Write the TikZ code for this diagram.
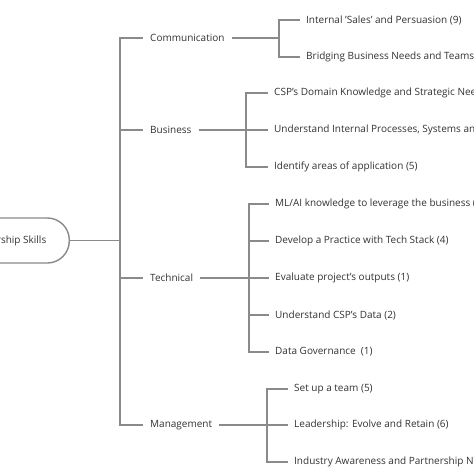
\documentclass[tikz,border=0pt]{standalone}
\usepackage{fontspec}
\setmainfont{Open Sans}
\definecolor{linegray}{HTML}{8A8A8A}
\definecolor{textgray}{HTML}{333333}
\newcommand{\sq}{\char"0027\relax}
\begin{document}
\begin{tikzpicture}[x=1pt,y=-1pt,
  conn/.style={draw=linegray,line width=1.4pt},
  txt/.style={anchor=west,inner ysep=0pt,text=textgray,font=\fontsize{10pt}{12pt}\selectfont},
  branch/.style={txt,inner xsep=7pt},
  leaf/.style={txt,inner xsep=6pt},
  rootbox/.style={draw=linegray,line width=1.4pt,rounded corners=22pt,minimum height=45pt,inner xsep=23pt,anchor=east,text=textgray,font=\fontsize{10pt}{12pt}\selectfont}]
\fill[white] (0,0) rectangle (474,474);
\useasboundingbox (0,0) rectangle (474,474);
\clip (0,0) rectangle (474,474);
% root
\node[rootbox] (root) at (70,240.5) {Leadership Skills};
\coordinate (T) at (120,240.5);
\draw[conn] (root.east) -- (T);
% branches
\node[branch] (comm) at (143,38) {Communication};
\node[branch] (bus) at (143,130) {Business};
\node[branch] (tech) at (143,278) {Technical};
\node[branch] (man) at (143,425) {Management};
\foreach \b in {comm,bus,tech,man} \draw[conn] (T) |- (\b.west);
% sub-trunks
\coordinate (CT) at (279,38);
\coordinate (BT) at (246,130);
\coordinate (TT) at (249,278);
\coordinate (MT) at (267,425);
\draw[conn] (comm.east) -- (CT);
\draw[conn] (bus.east) -- (BT);
\draw[conn] (tech.east) -- (TT);
\draw[conn] (man.east) -- (MT);
% communication leaves
\node[leaf] (c1) at (300,20) {Internal \sq Sales\sq{} and Persuasion (9)};
\node[leaf] (c2) at (300,57) {Bridging Business Needs and Teams};
% business leaves
\node[leaf] (b1) at (268,93) {CSP\sq s Domain Knowledge and Strategic Needs};
\node[leaf] (b2) at (268,130) {Understand Internal Processes, Systems and};
\node[leaf] (b3) at (268,167) {Identify areas of application (5)};
% technical leaves
\node[leaf] (t1) at (269,204) {ML/AI knowledge to leverage the business (};
\node[leaf] (t2) at (269,241) {Develop a Practice with Tech Stack (4)};
\node[leaf] (t3) at (269,278) {Evaluate project\sq s outputs (1)};
\node[leaf] (t4) at (269,315) {Understand CSP\sq s Data (2)};
\node[leaf] (t5) at (269,352) {Data Governance\ \ (1)};
% management leaves
\node[leaf] (m1) at (288,389) {Set up a team (5)};
\node[leaf] (m2) at (288,425) {Leadership: Evolve and Retain (6)};
\node[leaf] (m3) at (288,462) {Industry Awareness and Partnership Ne};
\foreach \l in {c1,c2} \draw[conn] (CT) |- (\l.west);
\foreach \l in {b1,b2,b3} \draw[conn] (BT) |- (\l.west);
\foreach \l in {t1,t2,t3,t4,t5} \draw[conn] (TT) |- (\l.west);
\foreach \l in {m1,m2,m3} \draw[conn] (MT) |- (\l.west);
\end{tikzpicture}
\end{document}
